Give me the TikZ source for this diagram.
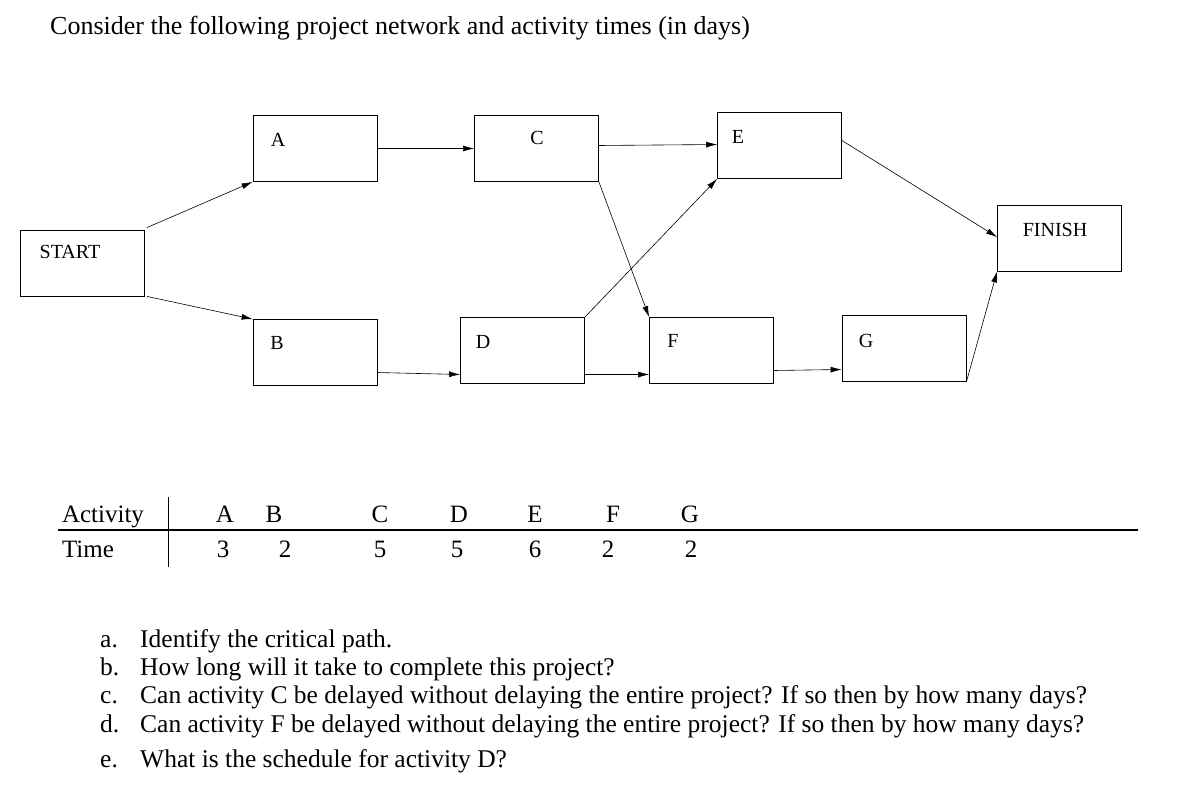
\documentclass[tikz,border=0pt]{standalone}
\usepackage{fontspec}
\setmainfont{Liberation Serif}
\usetikzlibrary{arrows.meta}
\begin{document}
\begin{tikzpicture}[x=1pt,y=-1pt,
 box/.style={draw,thick,minimum width=124pt,minimum height=66pt,inner sep=0pt},
 lab/.style={font=\fontsize{20}{24}\selectfont},
 txt/.style={font=\fontsize{25.5}{30}\selectfont,anchor=base west,inner sep=0pt},
 cel/.style={font=\fontsize{25}{30}\selectfont,anchor=base,inner sep=0pt},
 arr/.style={-{Latex[length=11pt,width=6pt]},semithick}]
\useasboundingbox (0,0) rectangle (1190,784);
\node[txt,font=\fontsize{26}{30}\selectfont] (title) at (50,35) {Consider the following project network and activity times (in days)};
\node[box] (S) at (82.5,263) {}; \node[lab] (sl) at (70,252) {START};
\node[box] (A) at (315,148.5) {}; \node[lab] (al) at (278,140) {A};
\node[box] (C) at (536.5,148.5) {}; \node[lab] (cl) at (537,138) {C};
\node[box] (E) at (779.5,145.5) {}; \node[lab] (el) at (738,137) {E};
\node[box] (Fi) at (1059.5,238) {}; \node[lab] (fil) at (1055,230) {FINISH};
\node[box] (B) at (315,352.5) {}; \node[lab] (bl) at (277,343) {B};
\node[box] (D) at (522.5,350.5) {}; \node[lab] (dl) at (483,342) {D};
\node[box] (F) at (711.5,350.5) {}; \node[lab] (fl) at (673,341) {F};
\node[box] (G) at (904,348.5) {}; \node[lab] (gl) at (866,341) {G};
\draw[arr] (S.north east) ++(2,-2) -- (A.south west);
\draw[arr] (S.south east) ++(2,0) -- (B.north west);
\draw[arr] (A.east) -- (C.west);
\draw[arr] ([yshift=3pt]C.east) -- ([yshift=1pt]E.west);
\draw[arr] (E.east) ++(0,-5) -- ([yshift=1pt]Fi.west);
\draw[arr] (C.south east) -- (F.north west);
\draw[arr] (D.north east) -- (E.south west);
\draw[arr] ([yshift=-20pt]B.east) -- ([yshift=-24pt]D.west);
\draw[arr] ([yshift=-24pt]D.east) -- ([yshift=-24pt]F.west);
\draw[arr] ([yshift=-20pt]F.east) -- ([yshift=-21pt]G.west);
\draw[arr] (G.south east) -- (Fi.south west);
\coordinate (h1) at (58,530); \coordinate (h2) at (1138,530);
\draw[line width=1.5pt] (h1) -- (h2);
\coordinate (v1) at (168,497); \coordinate (v2) at (168,567);
\draw[thick] (v1) -- (v2);
\node[cel] (ta) at (103,522) {Activity};
\node[cel] (tt) at (88,557) {Time};
\foreach \x/\l/\n/\xn [count=\i] in {225/A/3/223,274/B/2/285,380/C/5/380,459/D/5/457,535/E/6/535,613/F/2/608,690/G/2/691}{
 \node[cel] (l\i) at (\x,522) {\l};
 \node[cel] (n\i) at (\xn,557) {\n};}
\foreach \y/\a/\q [count=\i] in {647/a./Identify the critical path.,675/b./How long will it take to complete this project?,703/c./Can activity C be delayed without delaying the entire project? If so then by how many days?,732/d./Can activity F be delayed without delaying the entire project? If so then by how many days?,767/e./What is the schedule for activity D?}{
 \node[txt] (qa\i) at (100,\y) {\a};
 \node[txt] (q\i) at (140,\y) {\q};}
\end{tikzpicture}
\end{document}
